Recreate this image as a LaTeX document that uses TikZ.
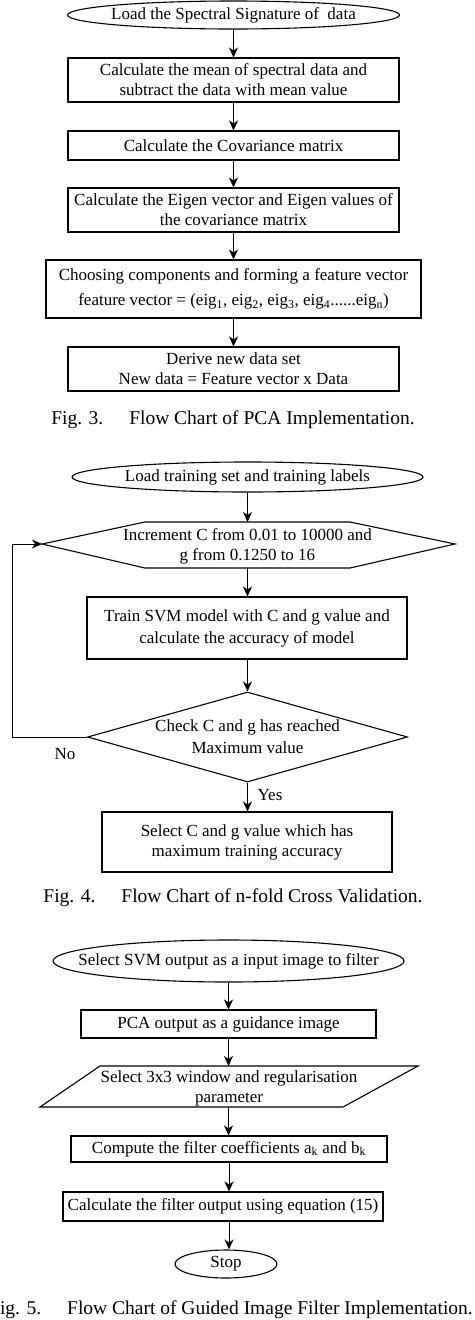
\documentclass[tikz,border=0pt]{standalone}
\usepackage{fontspec}
\setmainfont{Liberation Serif}
\usetikzlibrary{shapes.geometric,arrows.meta}
\begin{document}
\begin{tikzpicture}[x=1pt,y=-1pt,
  every node/.style={font=\fontsize{17}{20}\selectfont, align=center},
  box/.style={draw, line width=1.1pt, inner sep=0pt},
  oval/.style={draw, ellipse, line width=1.1pt, inner sep=0pt},
  shp/.style={draw, line width=1.1pt, line join=miter},
  arr/.style={line width=1pt, -{Stealth[length=10pt,width=9pt,inset=3pt]}},
  figcap/.style={font=\fontsize{19.5}{22}\selectfont}
]
\useasboundingbox (0,0) rectangle (474,1320);
\fill[white] (0,0) rectangle (474,1320);

% ---------- Fig. 3 ----------
\node[oval, minimum width=332pt, minimum height=28pt,
  label=center:{Load the Spectral Signature of\ \ data}] (e1) at (233.5,15) {};
\node[box, minimum width=331pt, minimum height=44pt] (b1) at (233.5,80)
  {Calculate the mean of spectral data and\\subtract the data with mean value};
\node[box, minimum width=331pt, minimum height=29pt] (b2) at (233.5,145.5)
  {Calculate the Covariance matrix};
\node[box, minimum width=331pt, minimum height=44pt] (b3) at (233.5,210)
  {Calculate the Eigen vector and Eigen values of\\the covariance matrix};
\node[box, minimum width=375pt, minimum height=58pt] (b4) at (233.5,289)
  {Choosing components and forming a feature vector\\[5pt]feature vector = (eig\textsubscript{1}, eig\textsubscript{2}, eig\textsubscript{3}, eig\textsubscript{4}......eig\textsubscript{n})};
\node[box, minimum width=331pt, minimum height=44pt] (b5) at (233.5,369)
  {Derive new data set\\New data = Feature vector x Data};
\node[figcap] (c3) at (233,420) {Fig. 3.\hspace{26pt}Flow Chart of PCA Implementation.};

\draw[arr] (e1.south) -- (b1.north);
\draw[arr] (b1.south) -- (b2.north);
\draw[arr] (b2.south) -- (b3.north);
\draw[arr] (b3.south) -- (b4.north);
\draw[arr] (b4.south) -- (b5.north);

% ---------- Fig. 4 ----------
\node[oval, minimum width=351pt, minimum height=30pt,
  label=center:{Load training set and training labels}] (e2) at (247.5,477) {};
\draw[shp] (42,544) -- (145,522) -- (350,522) -- (455,544) -- (350,568) -- (145,568) -- cycle;
\coordinate (hexT) at (247.5,522);
\coordinate (hexB) at (247.5,568);
\coordinate (hexL) at (42,544);
\node (hex) at (247.5,546) {Increment C from 0.01 to 10000 and\\g from 0.1250 to 16};
\node[box, minimum width=320pt, minimum height=62pt] (b6) at (247,628)
  {Train SVM model with C and g value and\\[2pt]calculate the accuracy of model};
\node[draw, diamond, line width=1.1pt, inner sep=0pt, minimum width=320pt, minimum height=90pt,
  label={[align=center]center:{Check C and g has reached\\[2pt]Maximum value}}] (dia) at (247.5,737) {};
\node[box, minimum width=290pt, minimum height=60pt] (b7) at (247,842)
  {Select C and g value which has\\maximum training accuracy};
\node (no) at (65,754) {No};
\node (yes) at (270,795) {Yes};
\node[figcap] (c4) at (233,898) {Fig. 4.\hspace{26pt}Flow Chart of n-fold Cross Validation.};

\coordinate (lp) at (12,737);
\draw[arr] (e2.south) -- (hexT);
\draw[arr] (hexB) -- (hexB |- b6.north);
\draw[arr] (b6.south -| dia.north) -- (dia.north);
\draw[arr] (dia.south) -- (dia.south |- b7.north);
\draw[arr] (dia.west) -- (lp) |- (hexL);

% ---------- Fig. 5 ----------
\node[oval, minimum width=351pt, minimum height=42pt,
  label=center:{Select SVM output as a input image to filter}] (e3) at (228.5,961) {};
\node[box, minimum width=295pt, minimum height=28pt] (b8) at (228.5,1024)
  {PCA output as a guidance image};
\draw[shp] (100,1066) -- (418,1066) -- (343,1107) -- (40,1107) -- cycle;
\coordinate (paraT) at (228.5,1066);
\coordinate (paraB) at (228.5,1107);
\node (para) at (229,1088) {Select 3x3 window and regularisation\\parameter};
\node[box, minimum width=316pt, minimum height=26pt] (b9) at (229,1149)
  {Compute the filter coefficients a\textsubscript{k} and b\textsubscript{k}};
\node[box, minimum width=320pt, minimum height=29pt] (b10) at (223,1206.5)
  {Calculate the filter output using equation (15)};
\node[oval, minimum width=102pt, minimum height=28pt,
  label=center:{Stop}] (stop) at (226,1264) {};
\node[figcap] (c5) at (231,1310) {Fig. 5.\hspace{26pt}Flow Chart of Guided Image Filter Implementation.};

\draw[arr] (e3.south) -- (b8.north);
\draw[arr] (b8.south) -- (paraT);
\draw[arr] (paraB) -- (paraB |- b9.north);
\draw[arr] (b9.south) -- (b9.south |- b10.north);
\draw[arr] (b9.south |- b10.south) -- (b9.south |- stop.north);
\end{tikzpicture}
\end{document}
